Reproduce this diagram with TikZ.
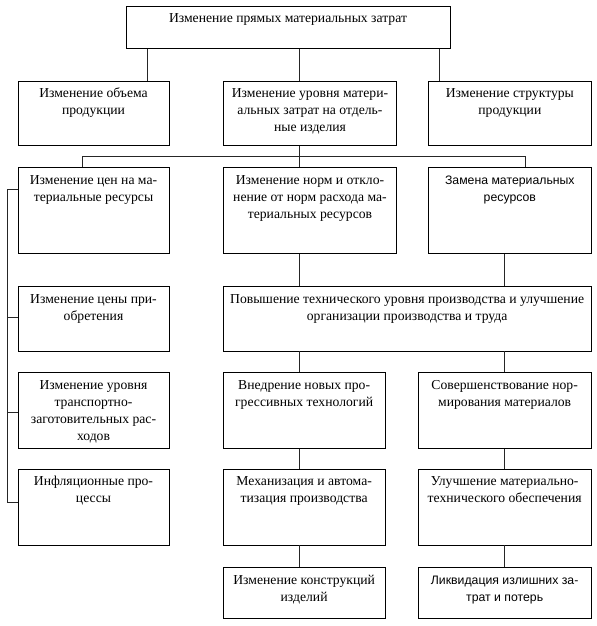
\documentclass[tikz,border=0pt]{standalone}
\usepackage{fontspec}
\setmainfont{Liberation Serif}
\newfontfamily\sansf{Liberation Sans}
\newcommand\bfs{\fontsize{10.25}{12.75}\selectfont}
\newcommand\sfs{\sansf\fontsize{9.2}{12.75}\selectfont}
\newcommand\mybox[7]{%
  \node[box, minimum width={(#4-#2)*0.75pt}, minimum height={(#5-#3)*0.75pt}]
    (#1) at ({(#2+#4)/2},{(#3+#5)/2}) {};
  \node[txt, font=#7] (#1t) at ([yshift=-3.6pt]#1.north) {\strut #6};
}
\begin{document}
\begin{tikzpicture}[x=0.75pt,y=-0.75pt,
  box/.style={draw=black, line width=0.7pt, inner sep=0pt},
  txt/.style={anchor=north, align=center, inner sep=0pt},
  conn/.style={draw=black!85, line width=0.6pt}]
\fill[white] (0,0) rectangle (597,626);
\useasboundingbox (0,0) rectangle (597,626);

\mybox{top}{126}{6}{450}{48.7}{Изменение прямых материальных затрат}{\bfs}
\mybox{obj}{18}{81}{169}{145.7}{Изменение объема\\продукции}{\bfs}
\mybox{lvl}{223.3}{81}{396.7}{145.7}{Изменение уровня матери-\\альных затрат на отдель-\\ные изделия}{\bfs}
\mybox{str}{428.7}{81}{591}{145.7}{Изменение структуры\\продукции}{\bfs}
\mybox{prc}{18}{167.7}{169}{253.3}{Изменение цен на ма-\\териальные ресурсы}{\bfs}
\mybox{norm}{223.3}{167.7}{396.7}{253.3}{Изменение норм и откло-\\нение от норм расхода ма-\\териальных ресурсов}{\bfs}
\mybox{zam}{428.7}{167.7}{591}{253.3}{Замена материальных\\ресурсов}{\sfs}
\mybox{cpr}{18}{286.7}{169}{351}{Изменение цены при-\\обретения}{\bfs}
\mybox{pov}{223.3}{286.7}{591}{351}{Повышение технического уровня производства и улучшение\\организации производства и труда}{\bfs}
\mybox{trn}{18}{372.7}{169}{448.3}{Изменение уровня\\транспортно-\\заготовительных рас-\\ходов}{\bfs}
\mybox{vn}{223.3}{372.7}{385}{448.3}{Внедрение новых про-\\грессивных технологий}{\bfs}
\mybox{sov}{418.3}{372.7}{591}{448.3}{Совершенствование нор-\\мирования материалов}{\bfs}
\mybox{inf}{18}{469.3}{169}{545}{Инфляционные про-\\цессы}{\bfs}
\mybox{mex}{223.3}{469.3}{385}{545}{Механизация и автома-\\тизация производства}{\bfs}
\mybox{ulu}{418.3}{469.3}{591}{545}{Улучшение материально-\\технического обеспечения}{\bfs}
\mybox{kon}{223.3}{567.7}{385}{618.3}{Изменение конструкций\\изделий}{\bfs}
\mybox{lik}{418.3}{567.7}{591}{618.3}{Ликвидация излишних за-\\трат и потерь}{\sfs}

% x positions
\coordinate (xa) at (147.3,0);
\coordinate (xm) at (299,0);
\coordinate (xc) at (439.7,0);
\coordinate (xl) at (82.7,0);
\coordinate (xr) at (525.3,0);
\coordinate (xs) at (504.3,0);
\coordinate (bus) at (0,156.7);
\coordinate (v1) at (7.3,189);
\coordinate (v2) at (7.3,317.7);
\coordinate (v3) at (7.3,412);
\coordinate (v4) at (7.3,502.3);

\draw[conn] (top.south -| xa) -- (obj.north -| xa);
\draw[conn] (top.south -| xm) -- (lvl.north -| xm);
\draw[conn] (top.south -| xc) -- (str.north -| xc);

\draw[conn] (lvl.south -| xm) -- (norm.north -| xm);
\draw[conn] (prc.north -| xl) -- (bus -| xl) -- (bus -| xr) -- (zam.north -| xr);

\draw[conn] (prc.west |- v1) -- (v1) -- (v4) -- (inf.west |- v4);
\draw[conn] (v2) -- (cpr.west |- v2);
\draw[conn] (v3) -- (trn.west |- v3);

\draw[conn] (norm.south -| xm) -- (pov.north -| xm);
\draw[conn] (zam.south -| xs) -- (pov.north -| xs);
\draw[conn] (pov.south -| xm) -- (vn.north -| xm);
\draw[conn] (pov.south -| xs) -- (sov.north -| xs);
\draw[conn] (vn.south -| xm) -- (mex.north -| xm);
\draw[conn] (sov.south -| xs) -- (ulu.north -| xs);
\draw[conn] (mex.south -| xm) -- (kon.north -| xm);
\draw[conn] (ulu.south -| xs) -- (lik.north -| xs);
\end{tikzpicture}
\end{document}
